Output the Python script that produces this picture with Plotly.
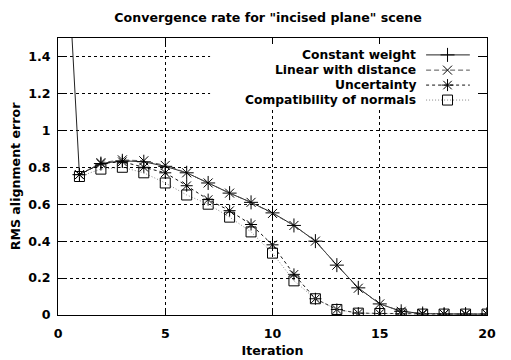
import plotly.graph_objects as go

iterations = list(range(0, 21))
constant_weight = [2.9, 0.76, 0.82, 0.835, 0.83, 0.805, 0.77, 0.715, 0.66, 0.61, 0.553,
                   0.485, 0.40, 0.27, 0.147, 0.06, 0.02, 0.008, 0.005, 0.005, 0.005]
linear_distance = [None, 0.76, 0.825, 0.84, 0.835, 0.81, 0.77, 0.715, 0.66, 0.61, 0.55,
                   0.485, 0.40, 0.27, 0.145, 0.06, 0.02, 0.008, 0.005, 0.005, 0.005]
uncertainty = [None, 0.76, 0.82, 0.83, 0.80, 0.77, 0.70, 0.625, 0.565, 0.49, 0.38,
               0.22, 0.088, 0.03, 0.01, 0.008, 0.006, 0.005, 0.005, 0.005, 0.005]
compat_normals = [None, 0.75, 0.79, 0.80, 0.77, 0.715, 0.65, 0.60, 0.53, 0.45, 0.335,
                  0.185, 0.088, 0.03, 0.01, 0.008, 0.006, 0.005, 0.005, 0.005, 0.005]

series_names = ["Constant weight", "Linear with distance", "Uncertainty", "Compatibility of normals"]
series_values = [constant_weight, linear_distance, uncertainty, compat_normals]
x_ticks = [0, 5, 10, 15, 20]
y_ticks = [0, 0.2, 0.4, 0.6, 0.8, 1, 1.2, 1.4]

styles = [
    dict(color="#222222", dash="solid", symbol="cross-thin", size=10),
    dict(color="#555555", dash="5px,3px", symbol="x-thin", size=9),
    dict(color="#111111", dash="3px,3px", symbol="asterisk", size=10),
    dict(color="#888888", dash="1px,2px", symbol="square-open", size=10),
]

FONT = "DejaVu Sans, Verdana, sans-serif"
FS = 12.6
FS_KEY = 12.3
fig = go.Figure()

def marker_for(st):
    if st["symbol"] == "square-open":
        return dict(symbol="square-open", size=st["size"], color="#000000",
                    line=dict(color="#000000", width=1))
    return dict(symbol=st["symbol"], size=st["size"], color="rgba(0,0,0,0)",
                line=dict(color="#000000", width=1))

for name, vals, st in zip(series_names, series_values, styles):
    fig.add_trace(go.Scatter(
        x=iterations, y=vals, mode="lines+markers", name=name, showlegend=False,
        line=dict(color=st["color"], width=1, dash=st["dash"]),
        marker=marker_for(st), connectgaps=False, cliponaxis=True,
    ))

# gnuplot-style key: text right-aligned, sample to its right (overlay axes spanning the plot area)
row_y = [0.939, 0.884, 0.830, 0.776]
text_x = 0.837
samp_x0, samp_x1, samp_xm = 0.858, 0.960, 0.908
for name, st, ry in zip(series_names, styles, row_y):
    fig.add_trace(go.Scatter(
        x=[samp_x0, samp_x1], y=[ry, ry], mode="lines", xaxis="x2", yaxis="y2",
        showlegend=False, hoverinfo="skip",
        line=dict(color=st["color"], width=1, dash=st["dash"]),
    ))
    fig.add_trace(go.Scatter(
        x=[samp_xm], y=[ry], mode="markers", xaxis="x2", yaxis="y2",
        showlegend=False, hoverinfo="skip", marker=marker_for(st),
    ))
    fig.add_annotation(x=text_x, y=ry, xref="x2", yref="y2", text="<b>%s</b>" % name,
                       showarrow=False, xanchor="right", yanchor="middle", borderpad=0,
                       font=dict(family=FONT, size=FS_KEY, color="#000000"))

# opaque key background hiding the grid (between grid and traces of the main subplot)
fig.add_shape(type="rect", xref="x", yref="y", x0=7.09, x1=19.5, y0=1.123, y1=1.47,
              fillcolor="white", line=dict(width=0), layer="between")

fig.update_layout(
    width=511, height=360,
    margin=dict(l=50, r=32, t=30, b=53),
    paper_bgcolor="white", plot_bgcolor="white",
    font=dict(family=FONT, size=FS, color="#000000"),
    title=dict(text="<b>Convergence rate for \"incised plane\" scene</b>", x=0.509, xanchor="center",
               xref="container", yref="container", y=0.972, yanchor="middle",
               font=dict(family=FONT, size=FS)),
    xaxis=dict(range=[0, 20], tickvals=x_ticks, ticktext=["<b>%g</b>" % v for v in x_ticks],
               showgrid=True, gridcolor="#000000", griddash="3px,3px", gridwidth=1,
               zeroline=False, showline=True, linecolor="#000000", linewidth=1, mirror="ticks",
               ticks="inside", ticklen=6, tickcolor="#000000", ticklabelstandoff=7,
               automargin=False,
               title=dict(text="<b>Iteration</b>", standoff=6, font=dict(size=FS))),
    yaxis=dict(range=[0, 1.5], tickvals=y_ticks, ticktext=["<b>%g</b>" % v for v in y_ticks],
               showgrid=True, gridcolor="#000000", griddash="3px,3px", gridwidth=1,
               zeroline=False, showline=True, linecolor="#000000", linewidth=1, mirror="ticks",
               ticks="inside", ticklen=6, tickcolor="#000000", ticklabelstandoff=4,
               automargin=False,
               title=dict(text="<b>RMS alignment error</b>", standoff=12, font=dict(size=FS))),
    xaxis2=dict(range=[0, 1], overlaying="x", visible=False, anchor="y2"),
    yaxis2=dict(range=[0, 1], overlaying="y", visible=False, anchor="x2"),
)

fig.write_html("out.html")
